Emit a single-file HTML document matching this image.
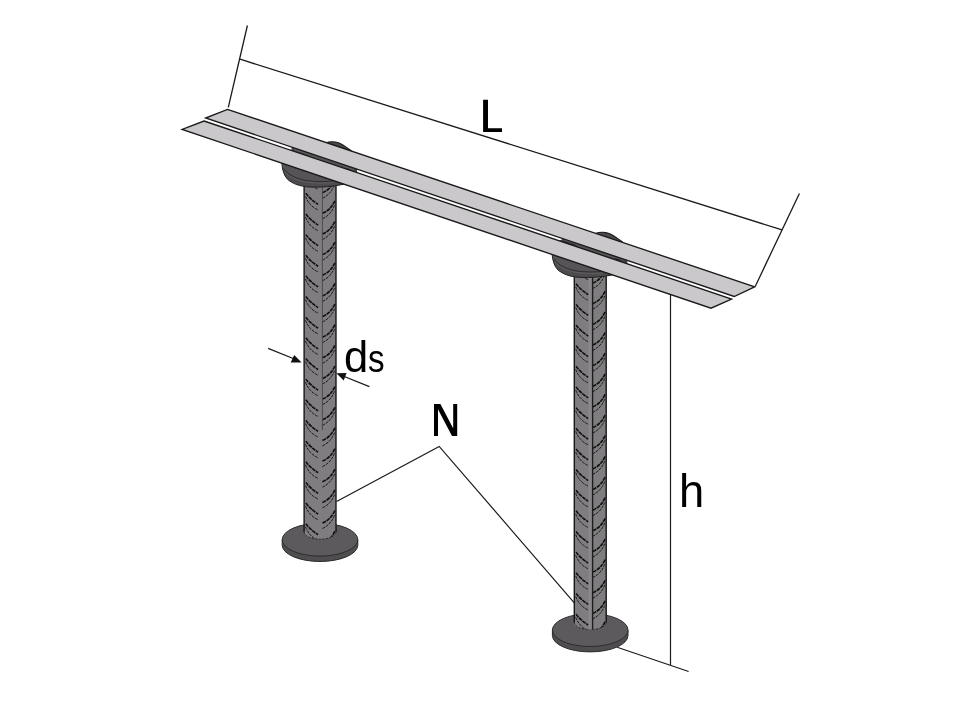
<!DOCTYPE html><html><head><meta charset="utf-8"><style>html,body{margin:0;padding:0;background:#fff;overflow:hidden}svg{display:block}</style></head><body><svg width="953" height="714" viewBox="0 0 953 714"><rect width="953" height="714" fill="#ffffff"/><g stroke="#1a1a1a" stroke-width="1.3" fill="none"><line x1="247.4" y1="25.5" x2="228.3" y2="107.4"/><line x1="799.4" y1="193.5" x2="755.3" y2="286.2"/><line x1="240.1" y1="59.2" x2="782" y2="229.9"/></g><g transform="translate(0,0)"><path d="M282.2,539.7 L282.2,545.1 A37.8,16.4 0 0 0 357.8,545.1 L357.8,539.7 Z" fill="#4f4d4f" stroke="#2a2a2a" stroke-width="1"/><ellipse cx="320.0" cy="539.7" rx="37.8" ry="16.4" fill="#5c5a5c" stroke="#2e2e2e" stroke-width="1"/><path d="M304.1,180.0 L304.1,532.0 A15.94,7.2 0 0 0 336.0,532.0 L336.0,180.0 Z" fill="#7f7d7f"/><clipPath id="rc0"><path d="M304.1,186.0 L304.1,532.0 A15.94,7.2 0 0 0 336.0,532.0 L336.0,186.0 Z"/></clipPath><path clip-path="url(#rc0)" d="M305.90,152.0 Q309.6,157.5 318.1,163.0 M322.40,172.0 Q330.5,169.0 334.9,159.5 M305.90,172.7 Q309.6,178.2 318.1,183.7 M322.40,192.7 Q330.5,189.7 334.9,180.2 M305.90,193.3 Q309.6,198.8 318.1,204.3 M322.40,213.3 Q330.5,210.3 334.9,200.8 M305.90,214.0 Q309.6,219.5 318.1,225.0 M322.40,234.0 Q330.5,231.0 334.9,221.5 M305.90,234.6 Q309.6,240.1 318.1,245.6 M322.40,254.6 Q330.5,251.6 334.9,242.1 M305.90,255.2 Q309.6,260.8 318.1,266.2 M322.40,275.2 Q330.5,272.2 334.9,262.8 M305.90,275.9 Q309.6,281.4 318.1,286.9 M322.40,295.9 Q330.5,292.9 334.9,283.4 M305.90,296.5 Q309.6,302.0 318.1,307.5 M322.40,316.5 Q330.5,313.5 334.9,304.0 M305.90,317.2 Q309.6,322.7 318.1,328.2 M322.40,337.2 Q330.5,334.2 334.9,324.7 M305.90,337.8 Q309.6,343.3 318.1,348.8 M322.40,357.8 Q330.5,354.8 334.9,345.3 M305.90,358.5 Q309.6,364.0 318.1,369.5 M322.40,378.5 Q330.5,375.5 334.9,366.0 M305.90,379.1 Q309.6,384.6 318.1,390.1 M322.40,399.1 Q330.5,396.1 334.9,386.6 M305.90,399.8 Q309.6,405.3 318.1,410.8 M322.40,419.8 Q330.5,416.8 334.9,407.3 M305.90,420.4 Q309.6,425.9 318.1,431.4 M322.40,440.4 Q330.5,437.4 334.9,427.9 M305.90,441.1 Q309.6,446.6 318.1,452.1 M322.40,461.1 Q330.5,458.1 334.9,448.6 M305.90,461.7 Q309.6,467.2 318.1,472.7 M322.40,481.7 Q330.5,478.7 334.9,469.2 M305.90,482.4 Q309.6,487.9 318.1,493.4 M322.40,502.4 Q330.5,499.4 334.9,489.9 M305.90,503.0 Q309.6,508.5 318.1,514.0 M322.40,523.0 Q330.5,520.0 334.9,510.5 M305.90,523.7 Q309.6,529.2 318.1,534.7 M322.40,543.7 Q330.5,540.7 334.9,531.2 M305.90,544.3 Q309.6,549.8 318.1,555.3 M322.40,564.3 Q330.5,561.3 334.9,551.8" fill="none" stroke="#101010" stroke-width="1.6" stroke-dasharray="4 0.7"/><path clip-path="url(#rc0)" d="M305.5,155.1 Q309.1,164.5 317.7,168.5 M322.40,177.5 Q331.0,173.5 334.5,164.2 M305.5,175.8 Q309.1,185.2 317.7,189.2 M322.40,198.2 Q331.0,194.2 334.5,184.8 M305.5,196.4 Q309.1,205.8 317.7,209.8 M322.40,218.8 Q331.0,214.8 334.5,205.5 M305.5,217.1 Q309.1,226.5 317.7,230.5 M322.40,239.5 Q331.0,235.5 334.5,226.2 M305.5,237.7 Q309.1,247.1 317.7,251.1 M322.40,260.1 Q331.0,256.1 334.5,246.8 M305.5,258.4 Q309.1,267.8 317.7,271.8 M322.40,280.8 Q331.0,276.8 334.5,267.4 M305.5,279.0 Q309.1,288.4 317.7,292.4 M322.40,301.4 Q331.0,297.4 334.5,288.1 M305.5,299.6 Q309.1,309.0 317.7,313.0 M322.40,322.0 Q331.0,318.0 334.5,308.7 M305.5,320.3 Q309.1,329.7 317.7,333.7 M322.40,342.7 Q331.0,338.7 334.5,329.4 M305.5,340.9 Q309.1,350.3 317.7,354.3 M322.40,363.3 Q331.0,359.3 334.5,350.0 M305.5,361.6 Q309.1,371.0 317.7,375.0 M322.40,384.0 Q331.0,380.0 334.5,370.7 M305.5,382.2 Q309.1,391.6 317.7,395.6 M322.40,404.6 Q331.0,400.6 334.5,391.3 M305.5,402.9 Q309.1,412.3 317.7,416.3 M322.40,425.3 Q331.0,421.3 334.5,412.0 M305.5,423.5 Q309.1,432.9 317.7,436.9 M322.40,445.9 Q331.0,441.9 334.5,432.6 M305.5,444.2 Q309.1,453.6 317.7,457.6 M322.40,466.6 Q331.0,462.6 334.5,453.3 M305.5,464.8 Q309.1,474.2 317.7,478.2 M322.40,487.2 Q331.0,483.2 334.5,473.9 M305.5,485.5 Q309.1,494.9 317.7,498.9 M322.40,507.9 Q331.0,503.9 334.5,494.6 M305.5,506.1 Q309.1,515.5 317.7,519.5 M322.40,528.5 Q331.0,524.5 334.5,515.2 M305.5,526.8 Q309.1,536.2 317.7,540.2 M322.40,549.2 Q331.0,545.2 334.5,535.9 M305.5,547.4 Q309.1,556.8 317.7,560.8 M322.40,569.8 Q331.0,565.8 334.5,556.5" fill="none" stroke="#1a1a1a" stroke-width="1.0" stroke-dasharray="3 0.9"/><path d="M304.1,180.0 L304.1,532.0" stroke="#111" stroke-width="1.35"/><path d="M336.0,180.0 L336.0,532.0" stroke="#111" stroke-width="1.35"/><path d="M304.1,532.0 A15.94,7.2 0 0 0 336.0,532.0" fill="none" stroke="#2a2a2a" stroke-width="1" stroke-dasharray="2 1.5"/><path d="M322.40,180.0 L322.40,430" stroke="#404040" stroke-width="0.8" clip-path="url(#rc0)"/><path d="M325,143.2 C329,141.6 334,141.3 339,143 C344,145 348,148.5 352.2,151.6 L352,157 L325,148 Z" fill="#4a484a" stroke="#1a1a1a" stroke-width="1.1"/><polygon points="291.5,144 357.1,166 357.1,176 291.5,154" fill="#444244"/><line x1="294" y1="149.4" x2="354" y2="169.6" stroke="#6e6c6e" stroke-width="0.9"/><path d="M280,158 L281.8,163 C282.3,170 284,175.5 287.5,179.3 C293,184 300,186.3 309,187 C320,187.6 333,186.6 344,184.2 L350,170 L290,150 Z" fill="#4d4b4d" stroke="#222" stroke-width="1"/><path d="M281.8,158 L282.2,164 C282.8,167 283,168 283.8,168.8 C287.5,174.2 296,179 307.4,180.7 C316,181.8 324,181.7 333,181 L345,180 L345,150 Z" fill="#565456"/><path d="M283.8,168.8 C287.5,174.2 296,179 307.4,180.7 C316,181.8 324,181.7 333,181" fill="none" stroke="#2a2a2a" stroke-width="0.9"/><path d="M285,172 C289,176.5 297,180.5 307.4,182.2 C316,183.2 324,183.2 333,182.5" fill="none" stroke="#666466" stroke-width="0.8"/></g><g transform="translate(270.2,90.4)"><path d="M282.2,539.7 L282.2,545.1 A37.8,16.4 0 0 0 357.8,545.1 L357.8,539.7 Z" fill="#4f4d4f" stroke="#2a2a2a" stroke-width="1"/><ellipse cx="320.0" cy="539.7" rx="37.8" ry="16.4" fill="#5c5a5c" stroke="#2e2e2e" stroke-width="1"/><path d="M304.1,180.0 L304.1,532.0 A15.94,7.2 0 0 0 336.0,532.0 L336.0,180.0 Z" fill="#7f7d7f"/><clipPath id="rc270"><path d="M304.1,186.0 L304.1,532.0 A15.94,7.2 0 0 0 336.0,532.0 L336.0,186.0 Z"/></clipPath><path clip-path="url(#rc270)" d="M305.90,152.0 Q309.6,157.5 318.1,163.0 M322.40,172.0 Q330.5,169.0 334.9,159.5 M305.90,172.7 Q309.6,178.2 318.1,183.7 M322.40,192.7 Q330.5,189.7 334.9,180.2 M305.90,193.3 Q309.6,198.8 318.1,204.3 M322.40,213.3 Q330.5,210.3 334.9,200.8 M305.90,214.0 Q309.6,219.5 318.1,225.0 M322.40,234.0 Q330.5,231.0 334.9,221.5 M305.90,234.6 Q309.6,240.1 318.1,245.6 M322.40,254.6 Q330.5,251.6 334.9,242.1 M305.90,255.2 Q309.6,260.8 318.1,266.2 M322.40,275.2 Q330.5,272.2 334.9,262.8 M305.90,275.9 Q309.6,281.4 318.1,286.9 M322.40,295.9 Q330.5,292.9 334.9,283.4 M305.90,296.5 Q309.6,302.0 318.1,307.5 M322.40,316.5 Q330.5,313.5 334.9,304.0 M305.90,317.2 Q309.6,322.7 318.1,328.2 M322.40,337.2 Q330.5,334.2 334.9,324.7 M305.90,337.8 Q309.6,343.3 318.1,348.8 M322.40,357.8 Q330.5,354.8 334.9,345.3 M305.90,358.5 Q309.6,364.0 318.1,369.5 M322.40,378.5 Q330.5,375.5 334.9,366.0 M305.90,379.1 Q309.6,384.6 318.1,390.1 M322.40,399.1 Q330.5,396.1 334.9,386.6 M305.90,399.8 Q309.6,405.3 318.1,410.8 M322.40,419.8 Q330.5,416.8 334.9,407.3 M305.90,420.4 Q309.6,425.9 318.1,431.4 M322.40,440.4 Q330.5,437.4 334.9,427.9 M305.90,441.1 Q309.6,446.6 318.1,452.1 M322.40,461.1 Q330.5,458.1 334.9,448.6 M305.90,461.7 Q309.6,467.2 318.1,472.7 M322.40,481.7 Q330.5,478.7 334.9,469.2 M305.90,482.4 Q309.6,487.9 318.1,493.4 M322.40,502.4 Q330.5,499.4 334.9,489.9 M305.90,503.0 Q309.6,508.5 318.1,514.0 M322.40,523.0 Q330.5,520.0 334.9,510.5 M305.90,523.7 Q309.6,529.2 318.1,534.7 M322.40,543.7 Q330.5,540.7 334.9,531.2 M305.90,544.3 Q309.6,549.8 318.1,555.3 M322.40,564.3 Q330.5,561.3 334.9,551.8" fill="none" stroke="#101010" stroke-width="1.6" stroke-dasharray="4 0.7"/><path clip-path="url(#rc270)" d="M305.5,155.1 Q309.1,164.5 317.7,168.5 M322.40,177.5 Q331.0,173.5 334.5,164.2 M305.5,175.8 Q309.1,185.2 317.7,189.2 M322.40,198.2 Q331.0,194.2 334.5,184.8 M305.5,196.4 Q309.1,205.8 317.7,209.8 M322.40,218.8 Q331.0,214.8 334.5,205.5 M305.5,217.1 Q309.1,226.5 317.7,230.5 M322.40,239.5 Q331.0,235.5 334.5,226.2 M305.5,237.7 Q309.1,247.1 317.7,251.1 M322.40,260.1 Q331.0,256.1 334.5,246.8 M305.5,258.4 Q309.1,267.8 317.7,271.8 M322.40,280.8 Q331.0,276.8 334.5,267.4 M305.5,279.0 Q309.1,288.4 317.7,292.4 M322.40,301.4 Q331.0,297.4 334.5,288.1 M305.5,299.6 Q309.1,309.0 317.7,313.0 M322.40,322.0 Q331.0,318.0 334.5,308.7 M305.5,320.3 Q309.1,329.7 317.7,333.7 M322.40,342.7 Q331.0,338.7 334.5,329.4 M305.5,340.9 Q309.1,350.3 317.7,354.3 M322.40,363.3 Q331.0,359.3 334.5,350.0 M305.5,361.6 Q309.1,371.0 317.7,375.0 M322.40,384.0 Q331.0,380.0 334.5,370.7 M305.5,382.2 Q309.1,391.6 317.7,395.6 M322.40,404.6 Q331.0,400.6 334.5,391.3 M305.5,402.9 Q309.1,412.3 317.7,416.3 M322.40,425.3 Q331.0,421.3 334.5,412.0 M305.5,423.5 Q309.1,432.9 317.7,436.9 M322.40,445.9 Q331.0,441.9 334.5,432.6 M305.5,444.2 Q309.1,453.6 317.7,457.6 M322.40,466.6 Q331.0,462.6 334.5,453.3 M305.5,464.8 Q309.1,474.2 317.7,478.2 M322.40,487.2 Q331.0,483.2 334.5,473.9 M305.5,485.5 Q309.1,494.9 317.7,498.9 M322.40,507.9 Q331.0,503.9 334.5,494.6 M305.5,506.1 Q309.1,515.5 317.7,519.5 M322.40,528.5 Q331.0,524.5 334.5,515.2 M305.5,526.8 Q309.1,536.2 317.7,540.2 M322.40,549.2 Q331.0,545.2 334.5,535.9 M305.5,547.4 Q309.1,556.8 317.7,560.8 M322.40,569.8 Q331.0,565.8 334.5,556.5" fill="none" stroke="#1a1a1a" stroke-width="1.0" stroke-dasharray="3 0.9"/><path d="M304.1,180.0 L304.1,532.0" stroke="#111" stroke-width="1.35"/><path d="M336.0,180.0 L336.0,532.0" stroke="#111" stroke-width="1.35"/><path d="M304.1,532.0 A15.94,7.2 0 0 0 336.0,532.0" fill="none" stroke="#2a2a2a" stroke-width="1" stroke-dasharray="2 1.5"/><rect x="318.45" y="180.0" width="3.2" height="365.0" fill="#8a888a" clip-path="url(#rc270)"/><path d="M322.40,180.0 L322.40,545" stroke="#1e1e1e" stroke-width="1.4" clip-path="url(#rc270)"/><path d="M325,143.2 C329,141.6 334,141.3 339,143 C344,145 348,148.5 352.2,151.6 L352,157 L325,148 Z" fill="#4a484a" stroke="#1a1a1a" stroke-width="1.1"/><polygon points="291.5,144 357.1,166 357.1,176 291.5,154" fill="#444244"/><line x1="294" y1="149.4" x2="354" y2="169.6" stroke="#6e6c6e" stroke-width="0.9"/><path d="M280,158 L281.8,163 C282.3,170 284,175.5 287.5,179.3 C293,184 300,186.3 309,187 C320,187.6 333,186.6 344,184.2 L350,170 L290,150 Z" fill="#4d4b4d" stroke="#222" stroke-width="1"/><path d="M281.8,158 L282.2,164 C282.8,167 283,168 283.8,168.8 C287.5,174.2 296,179 307.4,180.7 C316,181.8 324,181.7 333,181 L345,180 L345,150 Z" fill="#565456"/><path d="M283.8,168.8 C287.5,174.2 296,179 307.4,180.7 C316,181.8 324,181.7 333,181" fill="none" stroke="#2a2a2a" stroke-width="0.9"/><path d="M285,172 C289,176.5 297,180.5 307.4,182.2 C316,183.2 324,183.2 333,182.5" fill="none" stroke="#666466" stroke-width="0.8"/></g><polygon points="204,121 731.6,299 711,308.2 182.1,129.4" fill="#cac8ca" stroke="#1a1a1a" stroke-width="1.35" stroke-linejoin="miter"/><polygon points="227.5,109.4 754.7,286.9 734.2,296.5 205.6,118.0" fill="#cac8ca" stroke="#1a1a1a" stroke-width="1.35"/><g stroke="#1a1a1a" stroke-width="1.2" fill="none"><line x1="670.5" y1="295" x2="670.5" y2="665"/><line x1="617.2" y1="647.2" x2="688.6" y2="671.5"/><polyline points="336.6,501.5 439.2,446.4 574.3,602.8"/><line x1="268.1" y1="348.4" x2="295" y2="359.2"/><line x1="369.4" y1="386.6" x2="343" y2="376"/></g><polygon points="301.6,362.4 294.2,355 290.7,362.6" fill="#111"/><polygon points="336.4,373.2 346.6,373.1 343.7,380.6" fill="#111"/><path d="M483.1,99.8 H488 V128.2 H502 V132 H483.1 Z" fill="#000"/><path d="M434,403.9 H438 V436 H434 Z M453.2,403.9 H457.2 V436 H453.2 Z M435.2,403.9 H440.4 L457.2,436 H452 Z" fill="#000"/><g font-family="Liberation Sans, sans-serif" fill="#000" style="will-change:transform"><text x="678.9" y="507.2" font-size="45.3">h</text><text x="343.9" y="371.6" font-size="43.5">d</text><text transform="translate(368,371.6) scale(0.85,1)" font-size="39">s</text></g></svg></body></html>
